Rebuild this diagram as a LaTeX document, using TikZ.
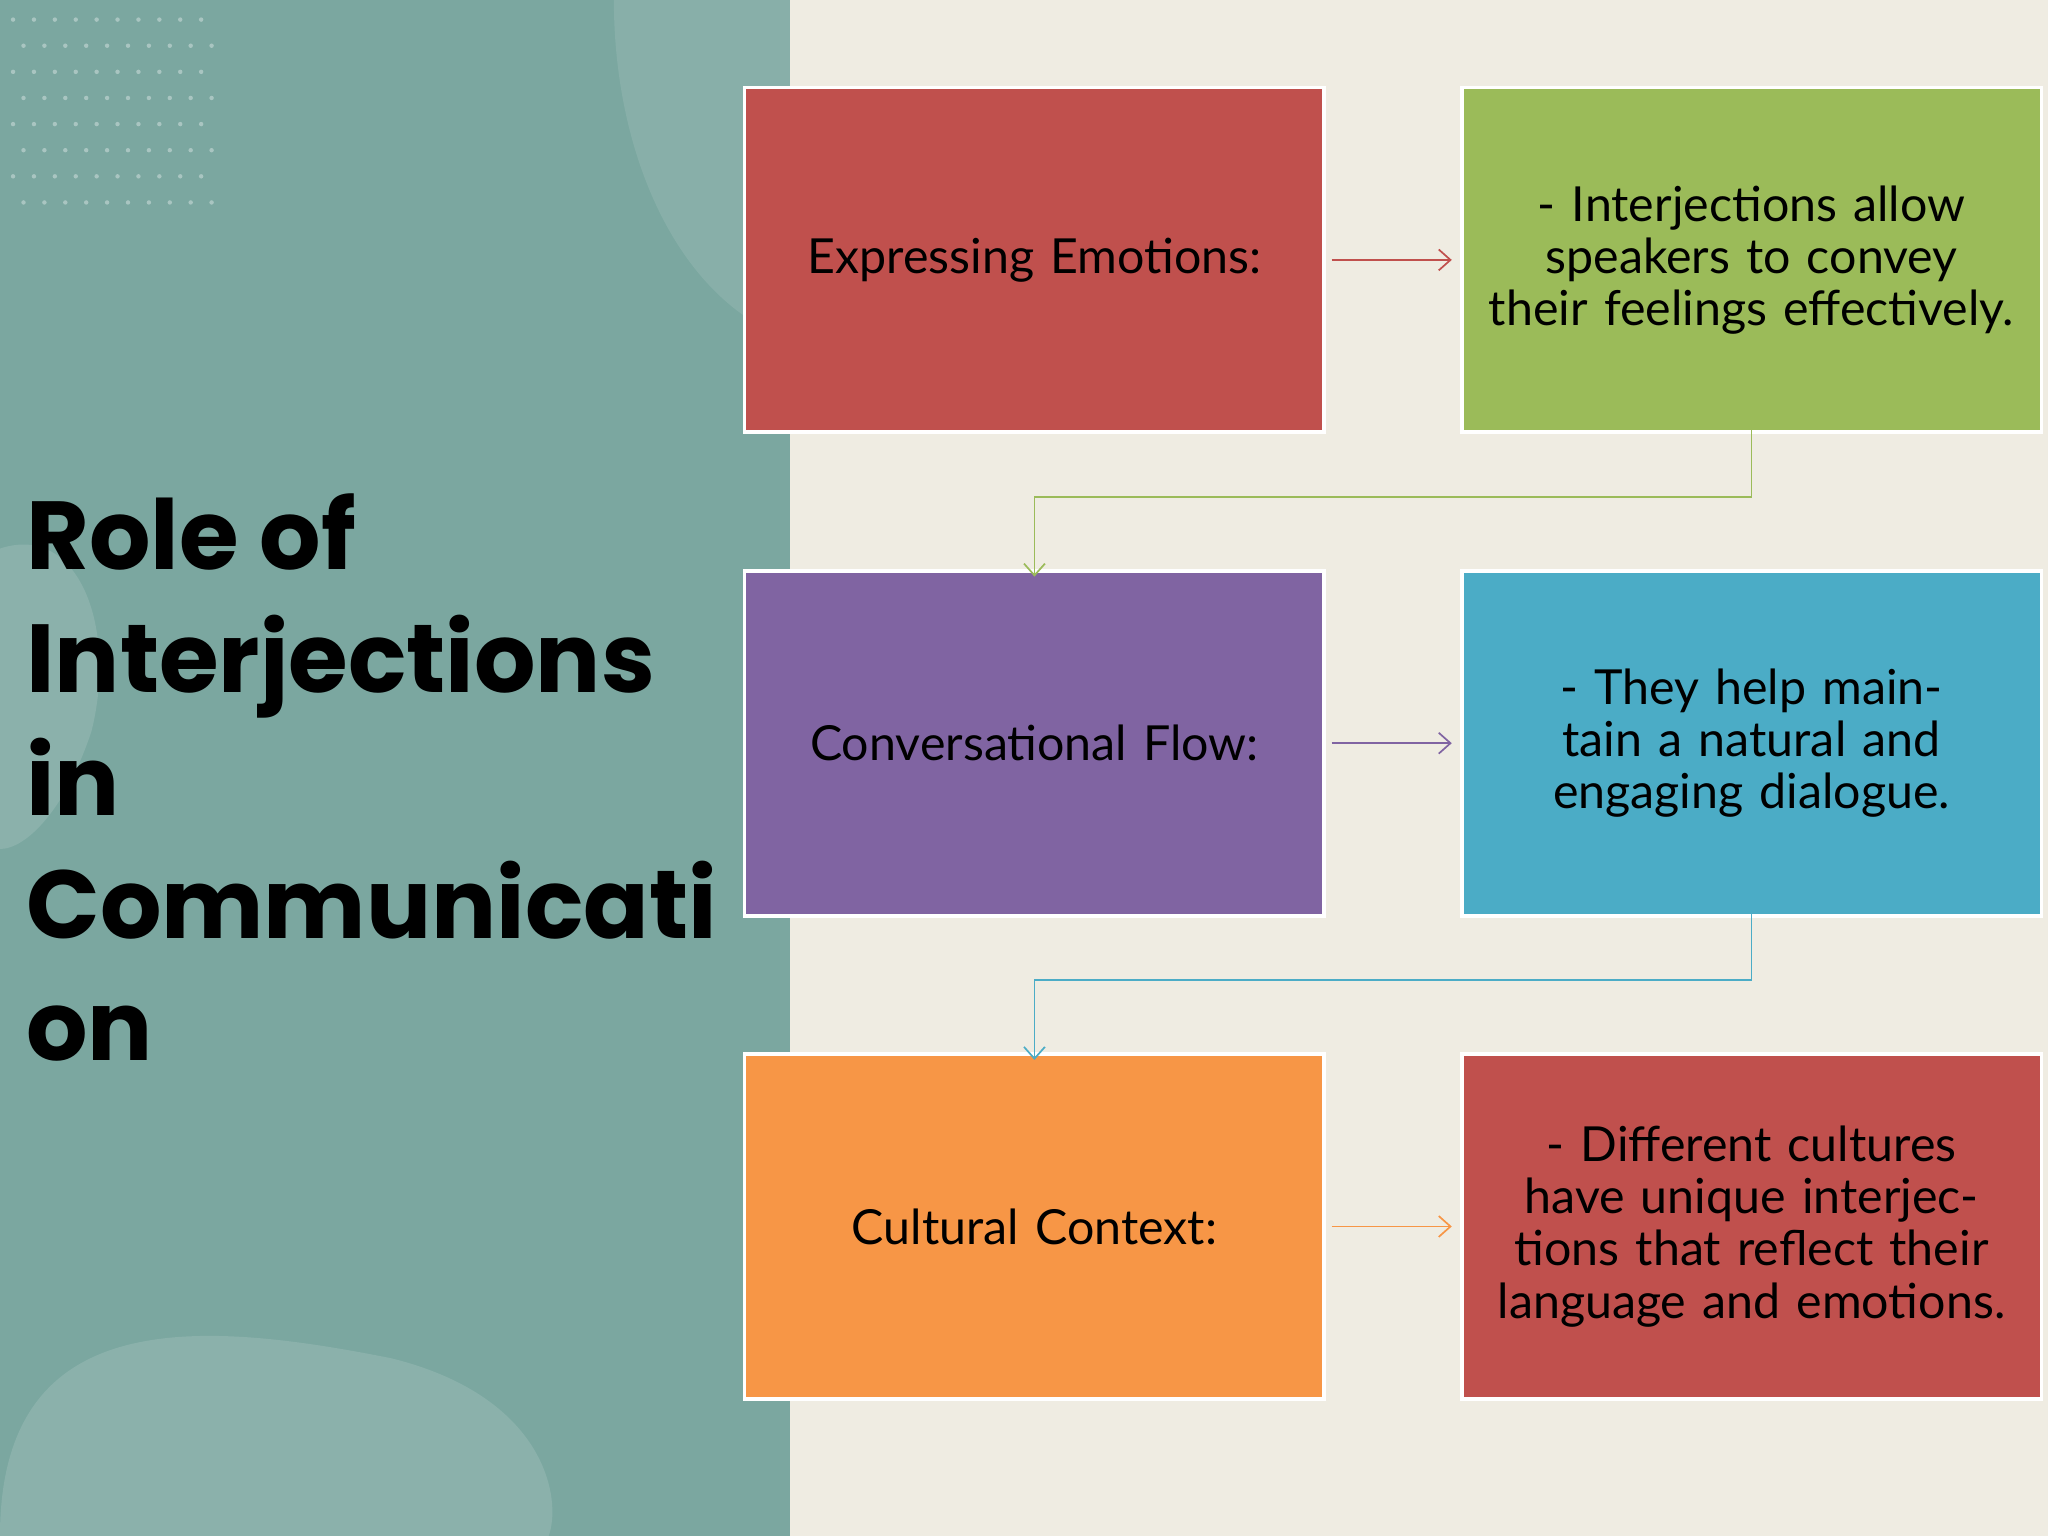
\documentclass[tikz,border=0pt]{standalone}
\usepackage{fontspec}
\setmainfont{Poppins}
\newfontfamily\bodyfont{Lato}
\definecolor{bg}{HTML}{EFECE2}
\definecolor{teal}{HTML}{7BA7A0}
\definecolor{cred}{HTML}{C0504D}
\definecolor{cgreen}{HTML}{9BBB59}
\definecolor{cpurple}{HTML}{8064A2}
\definecolor{cblue}{HTML}{4BACC6}
\definecolor{corange}{HTML}{F79646}
\tikzset{
 box/.style={draw=white,line width=3pt,minimum width=444pt,minimum height=264pt,inner sep=0pt,align=center,font=\bodyfont\fontsize{37}{40}\selectfont,text width=420pt},
 conn/.style={line width=1.3pt,-{Straight Barb[length=9pt,width=16pt]}},
}
\usetikzlibrary{arrows.meta}
\begin{document}
\begin{tikzpicture}[x=1pt,y=-1pt]
\fill[bg] (0,0) rectangle (1568,1176);
\fill[teal] (0,0) rectangle (605,1176);
\fill[white,opacity=0.12] (0,1176) .. controls (0,1000) and (150,1010) .. (300,1040) .. controls (420,1070) and (430,1150) .. (420,1176) -- cycle;
\fill[white,opacity=0.12] (0,420) .. controls (60,400) and (90,480) .. (70,560) .. controls (50,620) and (20,650) .. (0,650) -- cycle;
\fill[white,opacity=0.10] (470,0) .. controls (470,120) and (520,230) .. (605,260) -- (605,0) -- cycle;
\foreach \i in {0,...,9}{\foreach \j in {0,...,7}{
  \fill[white,opacity=0.35] ({10+\i*16+mod(\j,2)*8},{15+\j*20}) circle (1.7);}}
\node[box,fill=cred] (a1) at (792,199) {Expressing Emotions:};
\node[box,fill=cgreen] (b1) at (1341,199) {- Interjections allow speakers to convey their feelings effectively.};
\node[box,fill=cpurple] (a2) at (792,569) {Conversational Flow:};
\node[box,fill=cblue] (b2) at (1341,569) {- They help maintain a natural and engaging dialogue.};
\node[box,fill=corange] (a3) at (792,939) {Cultural Context:};
\node[box,fill=cred] (b3) at (1341,939) {- Different cultures have unique interjections that reflect their language and emotions.};
\draw[conn,cred] ([xshift=4pt]a1.east) -- ([xshift=-6pt]b1.west);
\draw[conn,cpurple] ([xshift=4pt]a2.east) -- ([xshift=-6pt]b2.west);
\draw[conn,corange] ([xshift=4pt]a3.east) -- ([xshift=-6pt]b3.west);
\draw[conn,cgreen] ([yshift=3pt]b1.south) -- ++(0,51) -| ([yshift=-6pt]a2.north);
\draw[conn,cblue] ([yshift=3pt]b2.south) -- ++(0,51) -| ([yshift=-6pt]a3.north);
\node[anchor=north west,align=left,inner sep=0pt,font=\bfseries\fontsize{74}{94}\selectfont] (t) at (20,378) {Role of\\Interjections\\in\\Communicati\\on};
\end{tikzpicture}
\end{document}
